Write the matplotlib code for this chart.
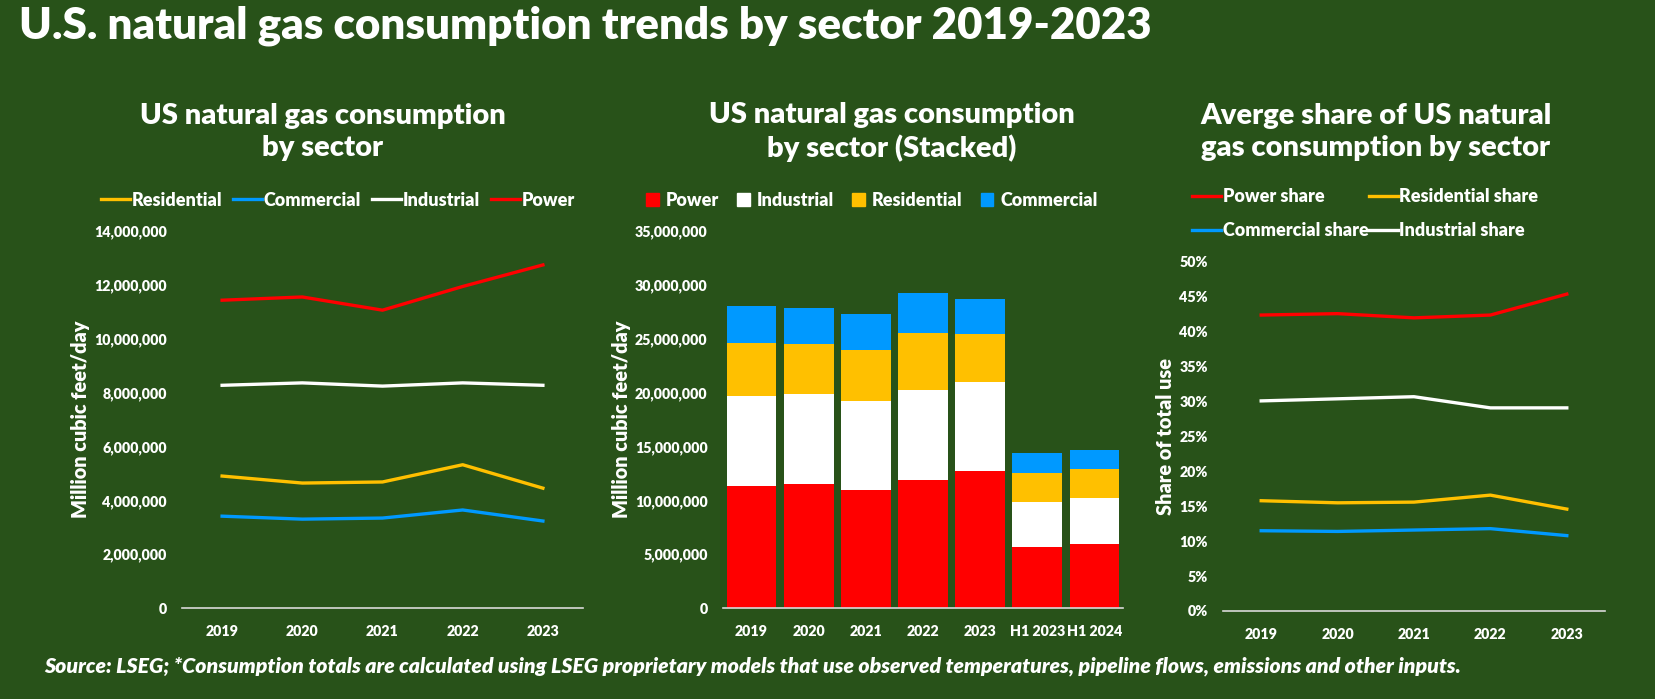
import numpy as np
import matplotlib.pyplot as plt
from matplotlib.ticker import FuncFormatter, PercentFormatter
from matplotlib.lines import Line2D
from matplotlib.patches import Patch

plt.rcParams['font.family'] = ['Lato', 'DejaVu Sans']
FW = 'heavy'
plt.rcParams['font.weight'] = FW

# colours
BG = '#285219'
RED = '#FF0000'
GOLD = '#FFC000'
BLUE = '#0099FF'
WHITE = '#FFFFFF'

# data: chart 1 (lines), million cubic feet/day
years = ['2019', '2020', '2021', '2022', '2023']
residential = [4900000, 4640000, 4680000, 5320000, 4450000]
commercial = [3410000, 3300000, 3340000, 3640000, 3230000]
industrial = [8270000, 8360000, 8240000, 8360000, 8270000]
power = [11430000, 11550000, 11060000, 11940000, 12740000]

# data: chart 2 (stacked bars)
periods = ['2019', '2020', '2021', '2022', '2023', 'H1 2023', 'H1 2024']
power_bar = [11350000, 11530000, 10980000, 11900000, 12740000, 5690000, 5970000]
industrial_bar = [8350000, 8350000, 8250000, 8350000, 8260000, 4170000, 4270000]
residential_bar = [4910000, 4640000, 4730000, 5290000, 4450000, 2690000, 2690000]
commercial_bar = [3440000, 3340000, 3340000, 3710000, 3250000, 1860000, 1760000]

# data: chart 3 (shares)
power_share = [0.424, 0.426, 0.420, 0.424, 0.454]
residential_share = [0.158, 0.155, 0.156, 0.166, 0.146]
commercial_share = [0.115, 0.114, 0.116, 0.118, 0.108]
industrial_share = [0.301, 0.304, 0.307, 0.291, 0.291]

W, H = 1656, 699
fig = plt.figure(figsize=(W / 100, H / 100), dpi=100, facecolor=BG)


def px_axes(x0, x1, ytop, ybot):
    return fig.add_axes([x0 / W, 1 - ybot / H, (x1 - x0) / W, (ybot - ytop) / H])


def style(ax):
    ax.set_facecolor(BG)
    for s in ['top', 'right', 'left']:
        ax.spines[s].set_visible(False)
    ax.spines['bottom'].set_color('#D9D9D9')
    ax.spines['bottom'].set_linewidth(1.2)
    ax.tick_params(axis='both', length=0, colors=WHITE, labelsize=10.3)
    ax.tick_params(axis='y', pad=11)
    ax.tick_params(axis='x', pad=12)
    for lab in ax.get_xticklabels() + ax.get_yticklabels():
        lab.set_fontweight(FW)


comma = FuncFormatter(lambda v, p: '{:,.0f}'.format(v))
yfs = 14.3

# chart 1
ax1 = px_axes(182, 583, 231, 608)
x = np.arange(len(years))
lw = 2.4
ax1.plot(x, residential, color=GOLD, lw=lw)
ax1.plot(x, commercial, color=BLUE, lw=lw)
ax1.plot(x, industrial, color=WHITE, lw=lw)
ax1.plot(x, power, color=RED, lw=lw)
ax1.set_xlim(-0.5, 4.5)
ax1.set_ylim(0, 14000000)
ax1.set_yticks(np.arange(0, 14000001, 2000000))
ax1.yaxis.set_major_formatter(comma)
ax1.set_xticks(x, years)
style(ax1)
ax1.set_ylabel('Million cubic feet/day', color=WHITE, fontsize=yfs, fontweight=FW, labelpad=3)

# chart 2
ax2 = px_axes(723, 1123, 231, 608)
xb = np.arange(len(periods))
bw = 0.87
b = np.zeros(len(periods))
for vals, c in [(power_bar, RED), (industrial_bar, WHITE), (residential_bar, GOLD), (commercial_bar, BLUE)]:
    ax2.bar(xb, vals, bw, bottom=b, color=c)
    b = b + np.array(vals)
ax2.set_xlim(-0.5, 6.5)
ax2.set_ylim(0, 35000000)
ax2.set_yticks(np.arange(0, 35000001, 5000000))
ax2.yaxis.set_major_formatter(comma)
ax2.set_xticks(xb, periods)
style(ax2)
ax2.set_ylabel('Million cubic feet/day', color=WHITE, fontsize=yfs, fontweight=FW, labelpad=3)

# chart 3
ax3 = px_axes(1223, 1605, 262, 611)
ax3.plot(x, power_share, color=RED, lw=lw)
ax3.plot(x, residential_share, color=GOLD, lw=lw)
ax3.plot(x, commercial_share, color=BLUE, lw=lw)
ax3.plot(x, industrial_share, color=WHITE, lw=lw)
ax3.set_xlim(-0.5, 4.5)
ax3.set_ylim(0, 0.5)
ax3.set_yticks(np.arange(0, 0.501, 0.05))
ax3.yaxis.set_major_formatter(PercentFormatter(1.0, decimals=0))
ax3.set_xticks(x, years)
style(ax3)
ax3.set_ylabel('Share of total use', color=WHITE, fontsize=yfs, fontweight=FW, labelpad=3)

# titles
fig.text(19 / W, 1 - 26 / H, 'U.S. natural gas consumption trends by sector 2019-2023',
         color=WHITE, fontsize=31.6, fontweight=FW, ha='left', va='center')
tfs = 21
fig.text(323 / W, 1 - 132 / H, 'US natural gas consumption\nby sector', color=WHITE,
         fontsize=tfs, fontweight=FW, ha='center', va='center', linespacing=1.3)
fig.text(892 / W, 1 - 132 / H, 'US natural gas consumption\nby sector (Stacked)', color=WHITE,
         fontsize=tfs, fontweight=FW, ha='center', va='center', linespacing=1.3)
fig.text(1376 / W, 1 - 132 / H, 'Averge share of US natural\ngas consumption by sector', color=WHITE,
         fontsize=tfs, fontweight=FW, ha='center', va='center', linespacing=1.3)

# legends
lfs = 13
h1 = [Line2D([], [], color=c, lw=2.4) for c in [GOLD, BLUE, WHITE, RED]]
leg1 = fig.legend(h1, ['Residential', 'Commercial', 'Industrial', 'Power'], loc='center',
                  bbox_to_anchor=(338 / W, 1 - 200 / H), ncol=4, frameon=False,
                  handlelength=1.6, handletextpad=0.1, columnspacing=0.6,
                  prop={'size': lfs, 'weight': FW}, labelcolor=WHITE)

h2 = [Patch(color=c) for c in [RED, WHITE, GOLD, BLUE]]
leg2 = fig.legend(h2, ['Power', 'Industrial', 'Residential', 'Commercial'], loc='center',
                  bbox_to_anchor=(872 / W, 1 - 200 / H), ncol=4, frameon=False,
                  handlelength=0.7, handleheight=0.7, handletextpad=0.4, columnspacing=1.0,
                  prop={'size': lfs, 'weight': FW}, labelcolor=WHITE)

h3 = [Line2D([], [], color=c, lw=2.4) for c in [RED, BLUE, GOLD, WHITE]]
leg3 = fig.legend(h3, ['Power share', 'Commercial share', 'Residential share', 'Industrial share'],
                  loc='upper left', bbox_to_anchor=(1176 / W, 1 - 172 / H), ncol=2, frameon=False,
                  handlelength=1.6, handletextpad=0.1, columnspacing=0.0, labelspacing=0.95,
                  prop={'size': lfs, 'weight': FW}, labelcolor=WHITE)

# footer
fig.text(44 / W, 1 - 666 / H,
         'Source: LSEG; *Consumption totals are calculated using LSEG proprietary models that use '
         'observed temperatures, pipeline flows, emissions and other inputs.',
         color=WHITE, fontsize=15.3, fontweight=FW, fontstyle='italic', ha='left', va='center')

fig.savefig('out.png', dpi=100, facecolor=BG)
